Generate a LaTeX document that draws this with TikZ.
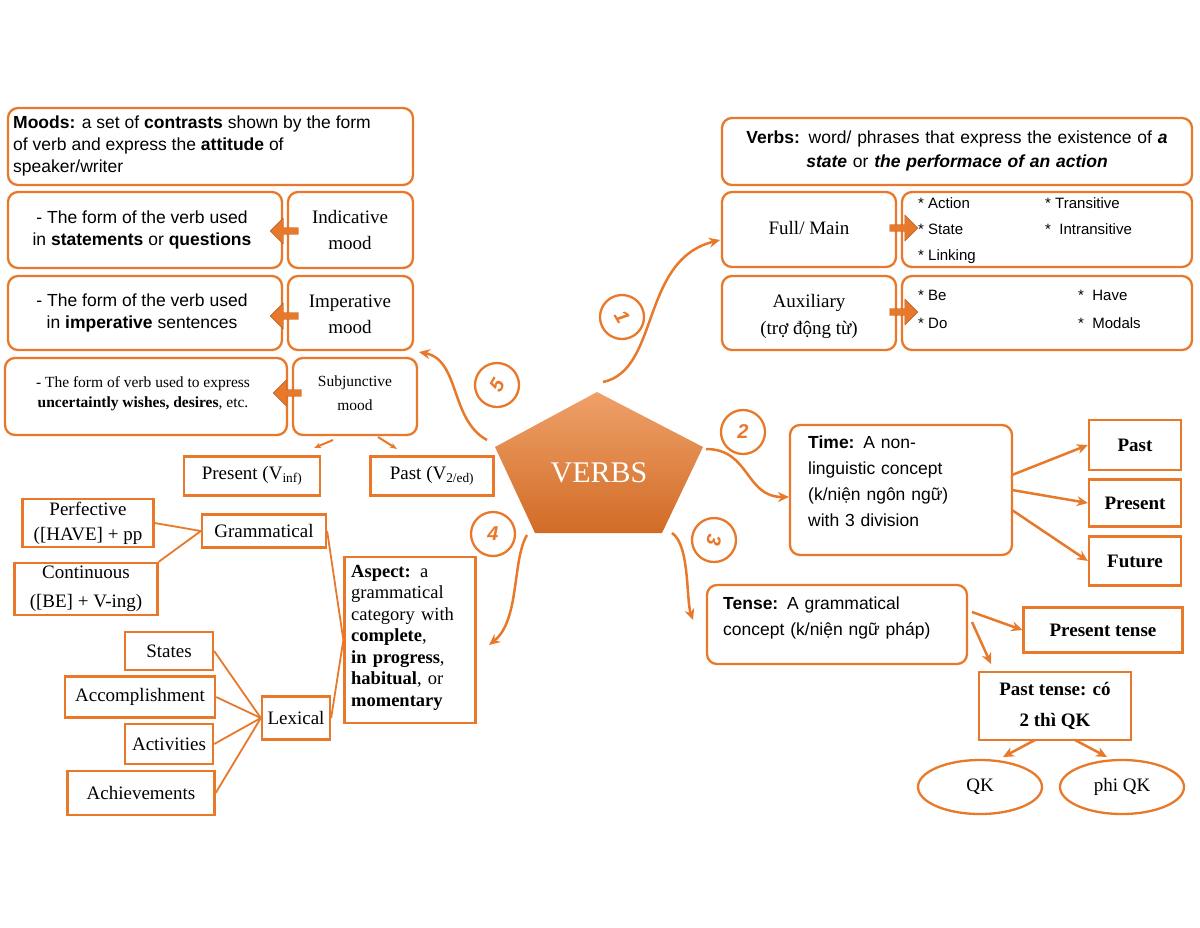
\documentclass[tikz,border=0pt]{standalone}
\usepackage{fontspec}
\setmainfont{Liberation Serif}
\setsansfont{Liberation Sans}
\usetikzlibrary{shapes.geometric,shapes.arrows,arrows.meta,calc}
\definecolor{og}{HTML}{E8782A}
\tikzset{
 rb/.style={draw=og,line width=2.3pt,rounded corners=10pt},
 sb/.style={draw=og,line width=2.3pt},
 arr/.style={draw=og,line width=2.5pt,-{Stealth[length=11pt,width=10pt]}},
 num/.style={draw=og,circle,line width=2.3pt,minimum size=44pt,inner sep=0pt,text=og,font=\sffamily\bfseries\itshape\fontsize{20}{20}\selectfont},
 blk/.style={fill=og,draw=og!75!black,single arrow,single arrow head extend=6pt,minimum height=28pt,minimum width=26pt,inner sep=2pt},
 tx/.style={align=center,inner sep=0pt},
 ln/.style={og,line width=1.8pt},
}
\begin{document}
\begin{tikzpicture}[x=1pt,y=-1pt]
\hyphenpenalty=10000
\useasboundingbox (0,0) rectangle (1200,927);
% left moods
\draw[rb] (8,108) rectangle (413,185);
\node[anchor=north west,align=left,font=\sffamily\fontsize{17.5}{22}\selectfont,inner sep=0pt] (moods) at (13,116) {\textbf{Moods:} a set of \textbf{contrasts} shown by the form\\of verb and express the \textbf{attitude} of\\speaker/writer};
\draw[rb] (8,192) rectangle (282,268);
\node[tx,font=\sffamily\fontsize{17.5}{22}\selectfont] (f1) at (142,230) {- The form of the verb used\\in \textbf{statements} or \textbf{questions}};
\draw[rb] (288,192) rectangle (413,268);
\node[tx,font=\fontsize{19}{26}\selectfont] (m1) at (350,230) {Indicative\\mood};
\draw[rb] (8,276) rectangle (282,350);
\node[tx,font=\sffamily\fontsize{17.5}{22}\selectfont] (f2) at (142,313) {- The form of the verb used\\in \textbf{imperative} sentences};
\draw[rb] (288,276) rectangle (413,350);
\node[tx,font=\fontsize{19}{26}\selectfont] (m2) at (350,314) {Imperative\\mood};
\draw[rb] (5,358) rectangle (287,435);
\node[tx,font=\fontsize{15.5}{20}\selectfont] (f3) at (143,394) {- The form of verb used to express\\\textbf{uncertaintly wishes, desires}, etc.};
\draw[rb] (293,358) rectangle (417,435);
\node[tx,font=\fontsize{15.5}{24}\selectfont] (m3) at (355,393) {Subjunctive\\mood};
\node[blk,shape border rotate=180] (b1) at (286,231) {};
\node[blk,shape border rotate=180] (b2) at (286,316) {};
\node[blk,shape border rotate=180] (b3) at (289,393) {};
\node[sb,minimum width=136pt,minimum height=39pt,font=\fontsize{19}{20}\selectfont] (pres) at (252,476) {Present (V\textsubscript{inf)}};
\node[sb,minimum width=123pt,minimum height=39pt,font=\fontsize{19}{20}\selectfont] (past) at (432,476) {Past (V\textsubscript{2/ed)}};
\draw[og,line width=2pt,-{Stealth[length=7pt]}] (333,440) -- (314,448);
\draw[og,line width=2pt,-{Stealth[length=7pt]}] (378,437) -- (397,449);
% aspect
\node[sb,minimum width=131pt,minimum height=48pt,tx,font=\fontsize{19}{25}\selectfont] (perf) at (88,523) {Perfective\\([HAVE] + pp};
\node[sb,minimum width=124pt,minimum height=33pt,font=\fontsize{19}{20}\selectfont] (gram) at (264,531) {Grammatical};
\node[sb,minimum width=143pt,minimum height=52pt,tx,font=\fontsize{19}{29}\selectfont] (cont) at (86,589) {Continuous\\([BE] + V-ing)};
\node[sb,minimum width=88pt,minimum height=38pt,font=\fontsize{19}{20}\selectfont] (st) at (169,651) {States};
\node[sb,minimum width=150pt,minimum height=41pt,font=\fontsize{19}{20}\selectfont] (acc) at (140,697) {Accomplishment};
\node[sb,minimum width=88pt,minimum height=40pt,font=\fontsize{19}{20}\selectfont] (act) at (169,744) {Activities};
\node[sb,minimum width=147pt,minimum height=44pt,font=\fontsize{19}{20}\selectfont] (ach) at (141,793) {Achievements};
\node[sb,minimum width=68pt,minimum height=43pt,font=\fontsize{19}{20}\selectfont] (lex) at (296,718) {Lexical};
\node[sb,minimum width=131pt,minimum height=166pt] (asp) at (410,640) {};
\node[anchor=north west,text width=125pt,align=left,inner sep=0pt,font=\fontsize{18.5}{21.5}\selectfont] at (351,565) {\raggedright\textbf{Aspect:} a grammatical category with \textbf{complete}, \textbf{in progress}, \textbf{habitual}, or \textbf{momentary}};
\draw[ln] (perf.east) -- (gram.west) -- (cont.north east);
\draw[ln] (gram.east) -- (asp.west);
\draw[ln] (lex.east) -- (asp.west);
\foreach \n in {st,acc,act,ach} \draw[ln] (\n.east) -- (lex.west);
% center
\shade[top color=og!70!white,bottom color=og!90!black] (597,392) -- (703,447) -- (662,533) -- (535,533) -- (495,447) -- cycle;
\node[text=white,font=\fontsize{30}{30}\selectfont] (verbs) at (599,473) {VERBS};
% right top
\draw[rb] (722,118) rectangle (1192,185);
\node[tx,text width=462pt,font=\sffamily\fontsize{17.5}{24}\selectfont] (vh) at (957,151) {\textbf{Verbs:} word/ phrases that express the existence of \textbf{\itshape a}\\ \textbf{\itshape state} or \textbf{\itshape the performace of an action}};
\draw[rb] (722,192) rectangle (896,267);
\node[font=\fontsize{19}{20}\selectfont] (full) at (809,228) {Full/ Main};
\draw[rb] (902,192) rectangle (1192,267);
\node[anchor=north west,inner sep=0pt,font=\sffamily\fontsize{15}{26}\selectfont,align=left] (fl1) at (918,197) {* Action\\* State\\* Linking};
\node[anchor=north west,inner sep=0pt,font=\sffamily\fontsize{15}{26}\selectfont,align=left] (fl2) at (1045,197) {* Transitive\\*\ \ Intransitive};
\draw[rb] (722,276) rectangle (896,350);
\node[tx,font=\fontsize{19}{27}\selectfont] (aux) at (809,316) {Auxiliary\\(trợ động từ)};
\draw[rb] (902,276) rectangle (1192,350);
\node[anchor=north west,inner sep=0pt,font=\sffamily\fontsize{15}{28}\selectfont,align=left] (al1) at (918,290) {* Be\\* Do};
\node[anchor=north west,inner sep=0pt,font=\sffamily\fontsize{15}{28}\selectfont,align=left] (al2) at (1078,290) {*\ \ Have\\*\ \ Modals};
\node[blk] (b4) at (902,228) {};
\node[blk] (b5) at (902,312) {};
% time
\draw[rb] (790,425) rectangle (1012,555);
\node[anchor=north west,text width=175pt,align=left,inner sep=0pt,font=\sffamily\fontsize{17.5}{26}\selectfont] (time) at (808,436) {\raggedright\textbf{Time:} A non-\\linguistic concept (k/niện ngôn ngữ) with 3 division};
\node[sb,minimum width=92pt,minimum height=50pt,font=\bfseries\fontsize{19}{20}\selectfont] (tp) at (1135,445) {Past};
\node[sb,minimum width=92pt,minimum height=47pt,font=\bfseries\fontsize{19}{20}\selectfont] (tpr) at (1135,503) {Present};
\node[sb,minimum width=92pt,minimum height=49pt,font=\bfseries\fontsize{19}{20}\selectfont] (tf) at (1135,561) {Future};
\draw[arr] (1012,475) -- (tp.west);
\draw[arr] (1012,490) -- (tpr.west);
\draw[arr] (1012,510) -- (tf.west);
% tense
\draw[rb] (707,585) rectangle (967,664);
\node[anchor=north west,text width=245pt,align=left,inner sep=0pt,font=\sffamily\fontsize{17.5}{26}\selectfont] (tense) at (723,597) {\textbf{Tense:} A grammatical\\concept (k/niện ngữ pháp)};
\node[sb,minimum width=159pt,minimum height=45pt,font=\bfseries\fontsize{19}{20}\selectfont] (ptn) at (1103,630) {Present tense};
\node[sb,minimum width=152pt,minimum height=68pt,tx,font=\bfseries\fontsize{19}{31}\selectfont] (pst) at (1055,706) {Past tense: có\\2 thì QK};
\draw[arr] (972,612) -- (ptn.west);
\draw[arr] (972,622) -- (991,664);
\node[ellipse,draw=og,line width=2.3pt,minimum width=124pt,minimum height=54pt,font=\fontsize{19}{20}\selectfont] (qk) at (980,787) {QK};
\node[ellipse,draw=og,line width=2.3pt,minimum width=124pt,minimum height=54pt,font=\fontsize{19}{20}\selectfont] (pqk) at (1122,787) {phi QK};
\draw[arr] (1035,740) -- (1003,757);
\draw[arr] (1075,740) -- (1107,757);
% curves
\coordinate (c1s) at (603,382);
\coordinate (c1e) at (720,240);
\draw[arr] (c1s) .. controls (660,370) and (640,260) .. (c1e);
\draw[arr] (706,449) .. controls (750,449) and (745,497) .. (789,497);
\draw[arr] (672,533) .. controls (690,545) and (686,600) .. (693,620);
\draw[arr] (527,535) .. controls (512,560) and (520,620) .. (489,645);
\draw[arr] (487,440) .. controls (450,420) and (460,360) .. (419,352);
% numbers
\node[num] (n1) at (622,317) {\rotatebox{-60}{1}};
\node[num] (n2) at (743,432) {2};
\node[num] (n3) at (714,540) {\rotatebox{-100}{3}};
\node[num] (n4) at (493,534) {4};
\node[num] (n5) at (497,385) {\rotatebox{60}{5}};
\end{tikzpicture}
\end{document}
